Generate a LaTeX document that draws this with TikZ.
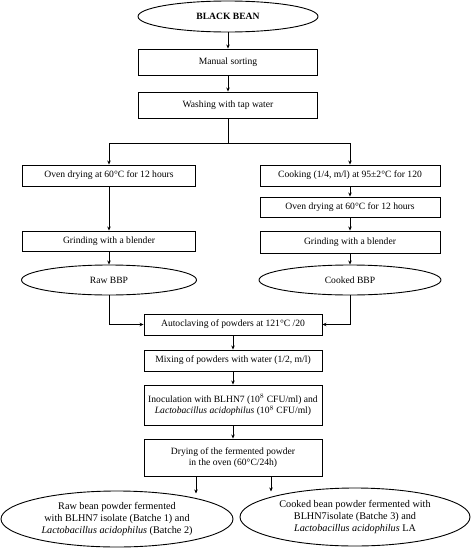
\documentclass[tikz,border=0pt]{standalone}
\usepackage{fontspec}
\setmainfont{Liberation Serif}
\usetikzlibrary{arrows.meta,shapes.geometric,calc}
\begin{document}
\begin{tikzpicture}[x=1pt,y=-1pt,
  every node/.style={font=\fontsize{9.6}{11.5}\selectfont, inner sep=1pt, align=center},
  box/.style={draw, line width=0.9pt, rectangle},
  oval/.style={draw, line width=0.9pt, ellipse, inner sep=0pt},
  arr/.style={line width=0.9pt, -{Stealth[length=4pt,width=3.5pt]}},
  ln/.style={line width=0.9pt}]
\useasboundingbox (0,0) rectangle (474,549);
\node[oval, minimum width=180, minimum height=31, font=\fontsize{9.6}{11.5}\selectfont\bfseries] (bean) at (228,16.5) {BLACK BEAN};
\node[box, minimum width=179, minimum height=26] (sort) at (228,62) {Manual sorting};
\node[box, minimum width=179, minimum height=26] (wash) at (228,105) {Washing with tap water};
\coordinate (split) at (228,143);
\node[box, minimum width=173, minimum height=21] (ovenL) at (109,175.5) {Oven drying at 60°C for 12 hours};
\node[box, minimum width=173, minimum height=20] (grindL) at (109,241) {Grinding with a blender};
\node[oval, minimum width=175, minimum height=30] (raw) at (109,280) {Raw BBP};
\node[box, minimum width=180, minimum height=21] (cook) at (350,175.5) {Cooking (1/4, m/l) at 95±2°C for 120};
\node[box, minimum width=180, minimum height=20] (ovenR) at (350,207) {Oven drying at 60°C for 12 hours};
\node[box, minimum width=180, minimum height=22] (grindR) at (350,242) {Grinding with a blender};
\node[oval, minimum width=182, minimum height=30] (cooked) at (350,280) {Cooked BBP};
\node[box, minimum width=178, minimum height=21] (auto) at (233,324.5) {Autoclaving of powders at 121°C /20};
\node[box, minimum width=178, minimum height=21] (mix) at (233,360.5) {Mixing of powders with water (1/2, m/l)};
\node[box, minimum width=178, minimum height=40] (inoc) at (233,405) {Inoculation with BLHN7 (10$^{8}$ CFU/ml) and\\ \textit{Lactobacillus acidophilus} (10$^{8}$ CFU/ml)};
\node[box, minimum width=178, minimum height=37] (dry) at (233,457.5) {Drying of the fermented powder\\ in the oven (60°C/24h)};
\node[oval, minimum width=232, minimum height=56, font=\fontsize{10.2}{12}\selectfont] (batchL) at (117,519) {Raw bean powder fermented\\ with BLHN7 isolate (Batche 1) and\\ \textit{Lactobacillus acidophilus} (Batche 2)};
\node[oval, minimum width=230, minimum height=58, font=\fontsize{10.2}{12}\selectfont] (batchR) at (355,517) {Cooked bean powder fermented with\\ BLHN7isolate (Batche 3) and\\ \textit{Lactobacillus acidophilus} LA};
\draw[arr] (bean) -- (sort);
\draw[arr] (sort) -- (wash);
\draw[ln] (wash.south) -- (split);
\draw[arr] (split) -| (ovenL.north);
\draw[arr] (split) -| (cook.north);
\draw[arr] (ovenL) -- (grindL);
\draw[arr] (grindL) -- (raw);
\draw[arr] (cook) -- (ovenR);
\draw[arr] (ovenR) -- (grindR);
\draw[arr] (grindR) -- (cooked);
\draw[arr] (raw.south) |- (auto.west);
\draw[arr] (cooked.south) |- (auto.east);
\draw[arr] (auto) -- (mix);
\draw[arr] (mix) -- (inoc);
\draw[arr] (inoc) -- (dry);
\draw[arr] ([xshift=-37pt]dry.south) -- ++(0,17);
\draw[arr] ([xshift=38pt]dry.south) -- ++(0,15);
\end{tikzpicture}
\end{document}
